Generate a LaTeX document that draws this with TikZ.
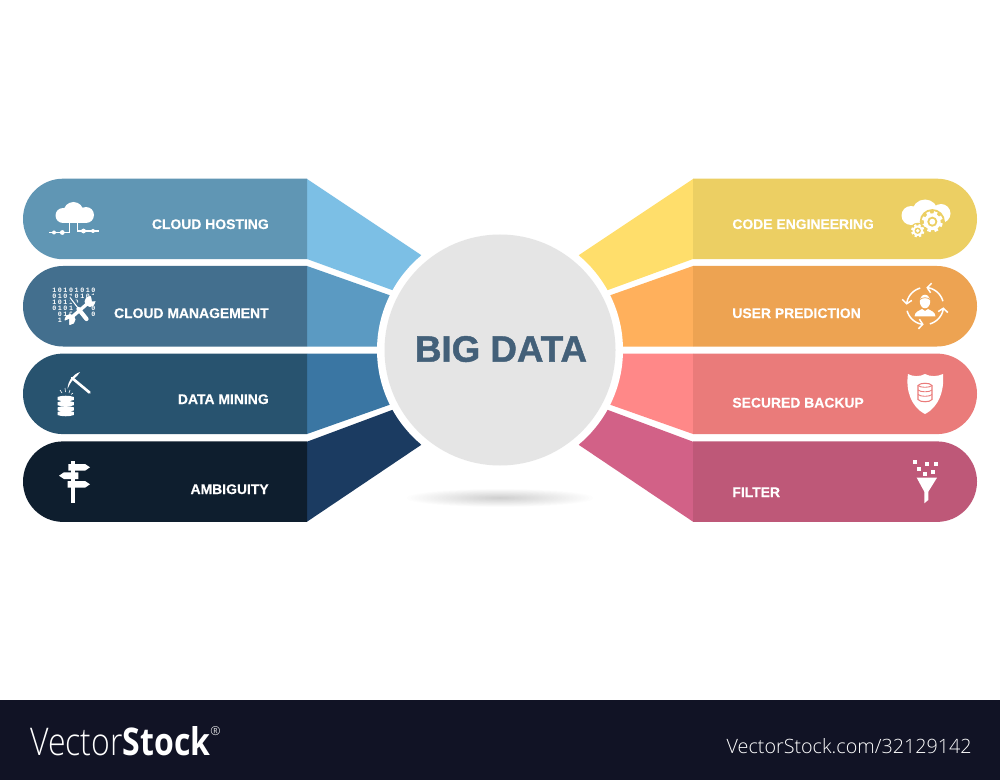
\documentclass[tikz,border=0pt]{standalone}
\usepackage{fontspec}
\setmainfont{Liberation Sans}[BoldFeatures={FakeBold=0.4}]
\newfontfamily\titlefont{Liberation Sans Bold}[FakeBold=1.2]
\newfontfamily\bannerfont{Open Sans Light}
\newfontfamily\bannerbold{Open Sans}
\newfontfamily\digitfont{Liberation Mono}
\usetikzlibrary{arrows.meta}
\definecolor{pA}{HTML}{6096B4}\definecolor{pB}{HTML}{436F8E}\definecolor{pC}{HTML}{28536F}\definecolor{pD}{HTML}{0E1E2E}
\definecolor{wA}{HTML}{7CBFE5}\definecolor{wB}{HTML}{5B9AC2}\definecolor{wC}{HTML}{3A76A3}\definecolor{wD}{HTML}{1B3B61}
\definecolor{pE}{HTML}{ECCF63}\definecolor{pF}{HTML}{EDA352}\definecolor{pG}{HTML}{EA7B7A}\definecolor{pH}{HTML}{BE5878}
\definecolor{wE}{HTML}{FFDE6B}\definecolor{wF}{HTML}{FFB05C}\definecolor{wG}{HTML}{FF8888}\definecolor{wH}{HTML}{D26187}
\definecolor{disc}{HTML}{E5E5E5}\definecolor{bigtext}{HTML}{436079}\definecolor{banner}{HTML}{111325}
\tikzset{
  x=0.02cm,y=-0.02cm,
  lab/.style={text=white,font=\bfseries\fontsize{7.92}{10}\selectfont,inner sep=0pt},
  labl/.style={lab,anchor=base east},
  labr/.style={lab,anchor=base west},
  dig/.style={text=white,font=\digitfont\bfseries\fontsize{3.8}{5}\selectfont,inner sep=0pt},
  wln/.style={draw=white,line width=0.6pt},
}
% left pill: top y, colour
\newcommand{\leftpill}[2]{\fill[#2,shift={(0,#1)}] (307,0) -- (63,0) .. controls (41,0) and (23,18) .. (23,40.25) .. controls (23,62.5) and (41,80.5) .. (63,80.5) -- (307,80.5) -- cycle;}
\newcommand{\rightpill}[2]{\fill[#2,shift={(0,#1)}] (693,0) -- (937,0) .. controls (959,0) and (977,18) .. (977,40.25) .. controls (977,62.5) and (959,80.5) .. (937,80.5) -- (693,80.5) -- cycle;}
% gear: x,y,outer radius,pill colour
\newcommand{\gearicon}[4]{%
  \fill[#4] (#1,#2) circle[radius=#3*1.2];
  \fill[white] (#1,#2) circle[radius=#3*0.8];
  \foreach \a in {0,45,...,315}{\draw[white,line width=#3*0.2pt] (#1,#2)+(\a+20:#3*0.6) -- +(\a+20:#3);}
  \fill[#4] (#1,#2) circle[radius=#3*0.48];
  \fill[white] (#1,#2) circle[radius=#3*0.28];
}
% disk of a database: centre x, half width, y, colour
\newcommand{\dbdisk}[4]{\fill[#4] (#1-#2,#3-1.5) -- (#1-#2,#3+1.5) .. controls (#1-#2*0.5,#3+3.2) and (#1+#2*0.5,#3+3.2) .. (#1+#2,#3+1.5) -- (#1+#2,#3-1.5) .. controls (#1+#2*0.5,#3-3.2) and (#1-#2*0.5,#3-3.2) .. (#1-#2,#3-1.5) -- cycle;}
\newcommand{\ringarrow}[2]{\draw[white,line width=0.85pt,-{Straight Barb[length=2.2pt,width=5.5pt,line width=0.85pt]}] plot[smooth,domain=#1:#2,samples=14] ({925+18.5*cos(\x)},{306-18.5*sin(\x)});}
\begin{document}
\begin{tikzpicture}
\useasboundingbox (0,0) rectangle (1000,780);
\fill[white] (0,0) rectangle (1000,780);
\fill[banner] (0,700) rectangle (1000,780);
% shadow
\foreach \i in {1,...,24}{\fill[black,opacity=0.009] (500,498) ellipse[x radius=3.9*\i,y radius=0.38*\i];}
% wedges left
\fill[wA] (307,179) -- (421,255) -- (440,300) -- (400,293) -- (392,290) -- (307,259) -- cycle;
\fill[wB] (307,266) -- (389,295) -- (420,306) -- (420,346.7) -- (307,346.7) -- cycle;
\fill[wC] (307,353.7) -- (420,353.7) -- (420,393.6) -- (389,405) -- (307,434) -- cycle;
\fill[wD] (307,441.7) -- (392,410) -- (400,407) -- (440,400) -- (421,445) -- (307,521.7) -- cycle;
% wedges right
\fill[wE] (693,179) -- (579,255) -- (560,300) -- (600,293) -- (608,290) -- (693,259) -- cycle;
\fill[wF] (693,266) -- (611,295) -- (580,306) -- (580,346.7) -- (693,346.7) -- cycle;
\fill[wG] (693,353.7) -- (580,353.7) -- (580,393.6) -- (611,405) -- (693,434) -- cycle;
\fill[wH] (693,441.7) -- (608,410) -- (600,407) -- (560,400) -- (579,445) -- (693,521.7) -- cycle;
% pills
\leftpill{178.7}{pA}\leftpill{266}{pB}\leftpill{353.6}{pC}\leftpill{441.4}{pD}
\rightpill{178.7}{pE}\rightpill{266}{pF}\rightpill{353.6}{pG}\rightpill{441.4}{pH}
% centre
\fill[white] (500,350) circle[radius=123];
\node[circle,fill=disc,minimum size=231*0.02cm,inner sep=0pt] (hub) at (500,350) {};
\node[anchor=base,inner sep=0pt,text=bigtext,font=\titlefont\fontsize{20.9}{24}\selectfont] (title) at (501,361.7) {BIG DATA};
% labels
\node[labl] (t1) at (269,229) {CLOUD HOSTING};
\node[labl] (t2) at (269,318) {CLOUD MANAGEMENT};
\node[labl] (t3) at (269,404) {DATA MINING};
\node[labl] (t4) at (269,494) {AMBIGUITY};
\node[labr] (t5) at (732,229) {CODE ENGINEERING};
\node[labr] (t6) at (732,318) {USER PREDICTION};
\node[labr] (t7) at (732,407.5) {SECURED BACKUP};
\node[labr] (t8) at (732,497) {FILTER};
% cloud hosting icon
\fill[white] (63,215.5) circle[radius=7.5] (73.5,212) circle[radius=10] (86,215) circle[radius=8];
\fill[white] (63,215) rectangle (86,223);
\draw[wln] (69.5,223) -- (69.5,232.5) -- (49,232.5);
\draw[wln] (77.5,223) -- (77.5,231) -- (99,231);
\fill[white] (54,232.5) circle[radius=2] (62.3,232.5) circle[radius=2.4] (83.5,231) circle[radius=2.4] (93,231) circle[radius=2];
% cloud management icon
\foreach \yy/\row in {290.5/{1,0,1,0,1,0,1,0},296.3/{0,1,0,1,0,1,0,1},302.2/{1,0,1,1,0,,,0},308/{0,1,0,1,,,,0},314/{,0,1,0,,,,0},320/{,1}}{
  \foreach \d [count=\c from 0] in \row {\node[dig] at (54.3+5.6*\c,\yy) {\d};}
}
\draw[pB,line width=3.2pt] (71,317) -- (88,303);
\draw[pB,line width=2.8pt] (70,297) -- (87,319);
\draw[white,line width=1.9pt] (72,317) -- (87,304);
\fill[white] (90,301.5) circle[radius=5.5] (70,319.5) circle[radius=5.5];
\fill[pB] (91,296) -- (96,294) -- (97,301) -- (92,301.5) -- cycle;
\fill[pB] (69,319) -- (64,321) -- (63,327) -- (69,325) -- cycle;
\draw[white,line width=0.6pt] (70,297.5) -- (78,308);
\draw[white,line width=2.4pt,line cap=round] (78.5,309) -- (86.5,319);
% mining icon
\draw[white,line width=1.5pt,line cap=round] (72,378) -- (89.5,392.5);
\fill[white] (80,372) .. controls (72,375) and (68,381) .. (67.5,389) .. controls (70,383) and (73,379) .. (77,376) -- cycle;
\foreach \yy in {398.5,403.7,408.9,413.5}{\dbdisk{65.7}{8.2}{\yy}{white}}
\draw[white,line width=0.35pt] (60,390) -- (62,393) (65,388) -- (65.5,392) (70,390) -- (69,393) (73,393) -- (71,394.5);
% signpost icon
\fill[white] (71,461) rectangle (75,502.5);
\fill[white] (68.3,464) -- (85,464) -- (90,467.3) -- (85,470.7) -- (68.3,470.7) -- cycle;
\fill[white] (78.3,472.3) -- (64,472.3) -- (59,475.7) -- (64,479) -- (78.3,479) -- cycle;
\fill[white] (67.7,481) -- (85,481) -- (90,484.3) -- (85,487.7) -- (67.7,487.7) -- cycle;
% code engineering icon
\fill[white] (911,215.5) circle[radius=9.5] (925,212.5) circle[radius=13] (941,213.5) circle[radius=9.5];
\fill[white] (911,215) rectangle (941,225);
\gearicon{932.3}{221.7}{10.5}{pE}
\gearicon{917.7}{230.7}{6.6}{pE}
% user prediction icon
\ringarrow{15}{86}\ringarrow{105}{176}\ringarrow{195}{266}\ringarrow{285}{356}
\fill[white] (925,301.5) ellipse[x radius=5.2,y radius=6.8];
\fill[white] (914.5,316.5) .. controls (914.5,311.5) and (920,310.5) .. (922,309) -- (925,311) -- (928,309) .. controls (930,310.5) and (935.5,311.5) .. (935.5,316.5) -- cycle;
\draw[pF,line width=0.4pt] (919.5,300) .. controls (921,297) and (929,297) .. (930.5,300);
% secured backup icon
\fill[white] (908,374) .. controls (912,376.5) and (920,377) .. (925,374) .. controls (930,377) and (938,376.5) .. (943,374) .. controls (944.5,390) and (939,407) .. (925,414) .. controls (911,407) and (905.5,390) .. (908,374) -- cycle;
\draw[pG,line width=0.6pt] (918,385.5) .. controls (920,382.5) and (930,382.5) .. (932,385.5) -- (932,399.5) .. controls (930,402.5) and (920,402.5) .. (918,399.5) -- cycle;
\foreach \yy in {385.5,390,394.5}{\draw[pG,line width=0.5pt] (918,\yy) .. controls (920,\yy+2.4) and (930,\yy+2.4) .. (932,\yy);}
% filter icon
\fill[white] (916.7,477.7) -- (937,477.7) -- (928.3,491.7) -- (928.3,500) -- (924.3,503.3) -- (924.3,491.7) -- cycle;
\foreach \sx/\sy in {235.3/462,246.7/464,255.7/464,239.3/468.7,253/472,245.3/473.7}{\fill[white] (680+\sx-2,\sy-2) rectangle +(4,4);}
% banner text
\node[anchor=west,inner sep=0pt,text=white] (logo) at (30,741) {\resizebox{180\dimexpr0.569pt\relax}{29\dimexpr0.569pt\relax}{\bannerfont\fontsize{20}{22}\selectfont Vector{\bannerbold\bfseries Stock}}};
\node[anchor=west,inner sep=0pt,text=white,font=\bannerfont\fontsize{7}{8}\selectfont] (reg) at (210,731) {®};
\node[anchor=east,inner sep=0pt,text=white] (ref) at (972,746) {\resizebox{245\dimexpr0.569pt\relax}{15\dimexpr0.569pt\relax}{\bannerfont\fontsize{11}{13}\selectfont VectorStock.com/32129142}};
\end{tikzpicture}
\end{document}
